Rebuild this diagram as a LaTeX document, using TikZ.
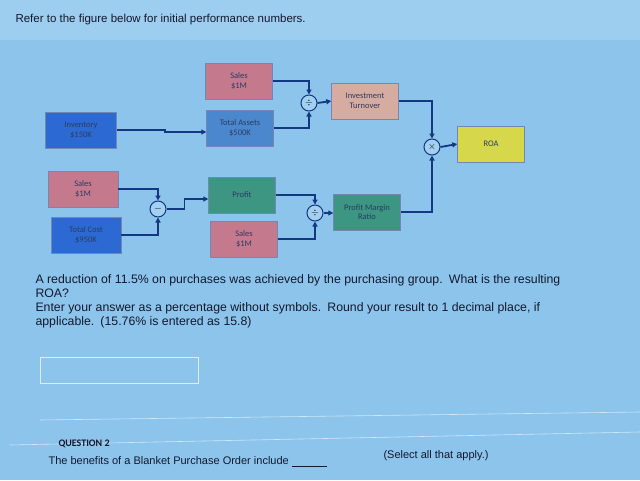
\documentclass[tikz,border=0pt]{standalone}
\usepackage{fontspec}
\setmainfont{Liberation Sans}
\newfontfamily\boxfont{Carlito}
\usetikzlibrary{arrows.meta}
\definecolor{bgc}{RGB}{140,196,236}
\definecolor{pinkc}{RGB}{196,122,140}
\definecolor{bluec}{RGB}{45,105,210}
\definecolor{steelc}{RGB}{75,135,205}
\definecolor{peachc}{RGB}{215,172,160}
\definecolor{tealc}{RGB}{60,150,130}
\definecolor{yellc}{RGB}{215,215,75}
\definecolor{linec}{RGB}{20,55,130}
\definecolor{txtc}{RGB}{20,25,45}
\definecolor{boxtxt}{RGB}{40,60,100}
\tikzset{
  blk/.style={draw=linec!60, line width=0.4pt, minimum width=67pt, minimum height=36pt, align=center, font=\boxfont\fontsize{8.5}{9.5}\selectfont, text=boxtxt},
  opc/.style={circle, draw=linec, line width=1pt, fill=bgc!80!white, minimum size=16pt, inner sep=0pt, font=\fontsize{10}{10}\selectfont},
  con/.style={draw=linec, line width=1.8pt},
  arr/.style={con, -{Triangle[length=5pt,width=5pt]}},
  qtext/.style={anchor=north west, align=left, font=\fontsize{12.3}{14}\selectfont, text=txtc}
}
\begin{document}
\begin{tikzpicture}[x=1pt,y=-1pt]
\useasboundingbox (0,0) rectangle (640,480);
\fill[bgc] (0,0) rectangle (640,480);
\fill[bgc!70!white, opacity=0.5] (0,0) rectangle (640,40);
\node[qtext, font=\fontsize{11.5}{13}\selectfont] (title) at (12,11) {Refer to the figure below for initial performance numbers.};
% boxes
\node[blk, fill=pinkc] (s1) at (239,81) {Sales\\\$1M};
\node[blk, fill=steelc] (ta) at (240,128) {Total Assets\\\$500K};
\node[blk, fill=bluec, minimum width=71pt] (inv) at (81,130) {Inventory\\\$150K};
\node[blk, fill=peachc] (it) at (365,101) {Investment\\Turnover};
\node[blk, fill=yellc] (roa) at (491,144) {ROA};
\node[blk, fill=pinkc, minimum width=70pt] (s2) at (83,189) {Sales\\\$1M};
\node[blk, fill=bluec, minimum width=70pt] (tc) at (86,235) {Total Cost\\\$950K};
\node[blk, fill=tealc] (pr) at (242,195) {Profit};
\node[blk, fill=pinkc] (s3) at (244,239) {Sales\\\$1M};
\node[blk, fill=tealc] (pmr) at (367,212) {Profit Margin\\Ratio};
% operators
\node[opc] (d1) at (309,103) {$\div$};
\node[opc] (mul) at (432,147) {$\times$};
\node[opc] (sub) at (158,209) {$-$};
\node[opc] (d2) at (315,213) {$\div$};
% connectors
\draw[arr] (s1.east) -| (d1.north);
\draw[arr] (ta.east) -| (d1.south);
\draw[arr] (d1.east) -- (it.west);
\draw[arr] (it.east) -| (mul.north);
\draw[arr] (pmr.east) -| (mul.south);
\draw[arr] (mul.east) -- (roa.west);
\draw[arr] (inv.east) -- ++(48,0) -- ++(0,2) -- (ta.west |- 0,132);
\draw[arr] (s2.east) -| (sub.north);
\draw[arr] (tc.east) -| (sub.south);
\draw[arr] (sub.east) -- ++(18,0) -- ++(0,-10) -- (pr.west |- 0,199);
\draw[arr] (pr.east) -| (d2.north);
\draw[arr] (s3.east) -| (d2.south);
\draw[arr] (d2.east) -- (pmr.west |- d2.east);
% question
\node[qtext] (q) at (32,271) {A reduction of 11.5\% on purchases was achieved by the purchasing group.\enspace What is the resulting\\ROA?\\Enter your answer as a percentage without symbols.\enspace Round your result to 1 decimal place, if\\applicable.\enspace (15.76\% is entered as 15.8)};
\node[draw=white!70!bgc, line width=0.6pt, minimum width=158pt, minimum height=26pt, anchor=north west] (ans) at (40,357) {};
\draw[white!60!bgc, line width=0.6pt] (40,420) -- (640,412);
\draw[white!60!bgc, line width=0.6pt] (10,445) -- (640,432);
\node[qtext, font=\boxfont\bfseries\fontsize{10}{11}\selectfont] (q2) at (55,436) {QUESTION 2};
\node[qtext, font=\fontsize{11}{12}\selectfont] (q2t) at (45,453) {The benefits of a Blanket Purchase Order include \underline{\hspace{3.2em}}};
\node[qtext, font=\fontsize{11}{12}\selectfont] (q2s) at (380,447) {(Select all that apply.)};
\end{tikzpicture}
\end{document}
